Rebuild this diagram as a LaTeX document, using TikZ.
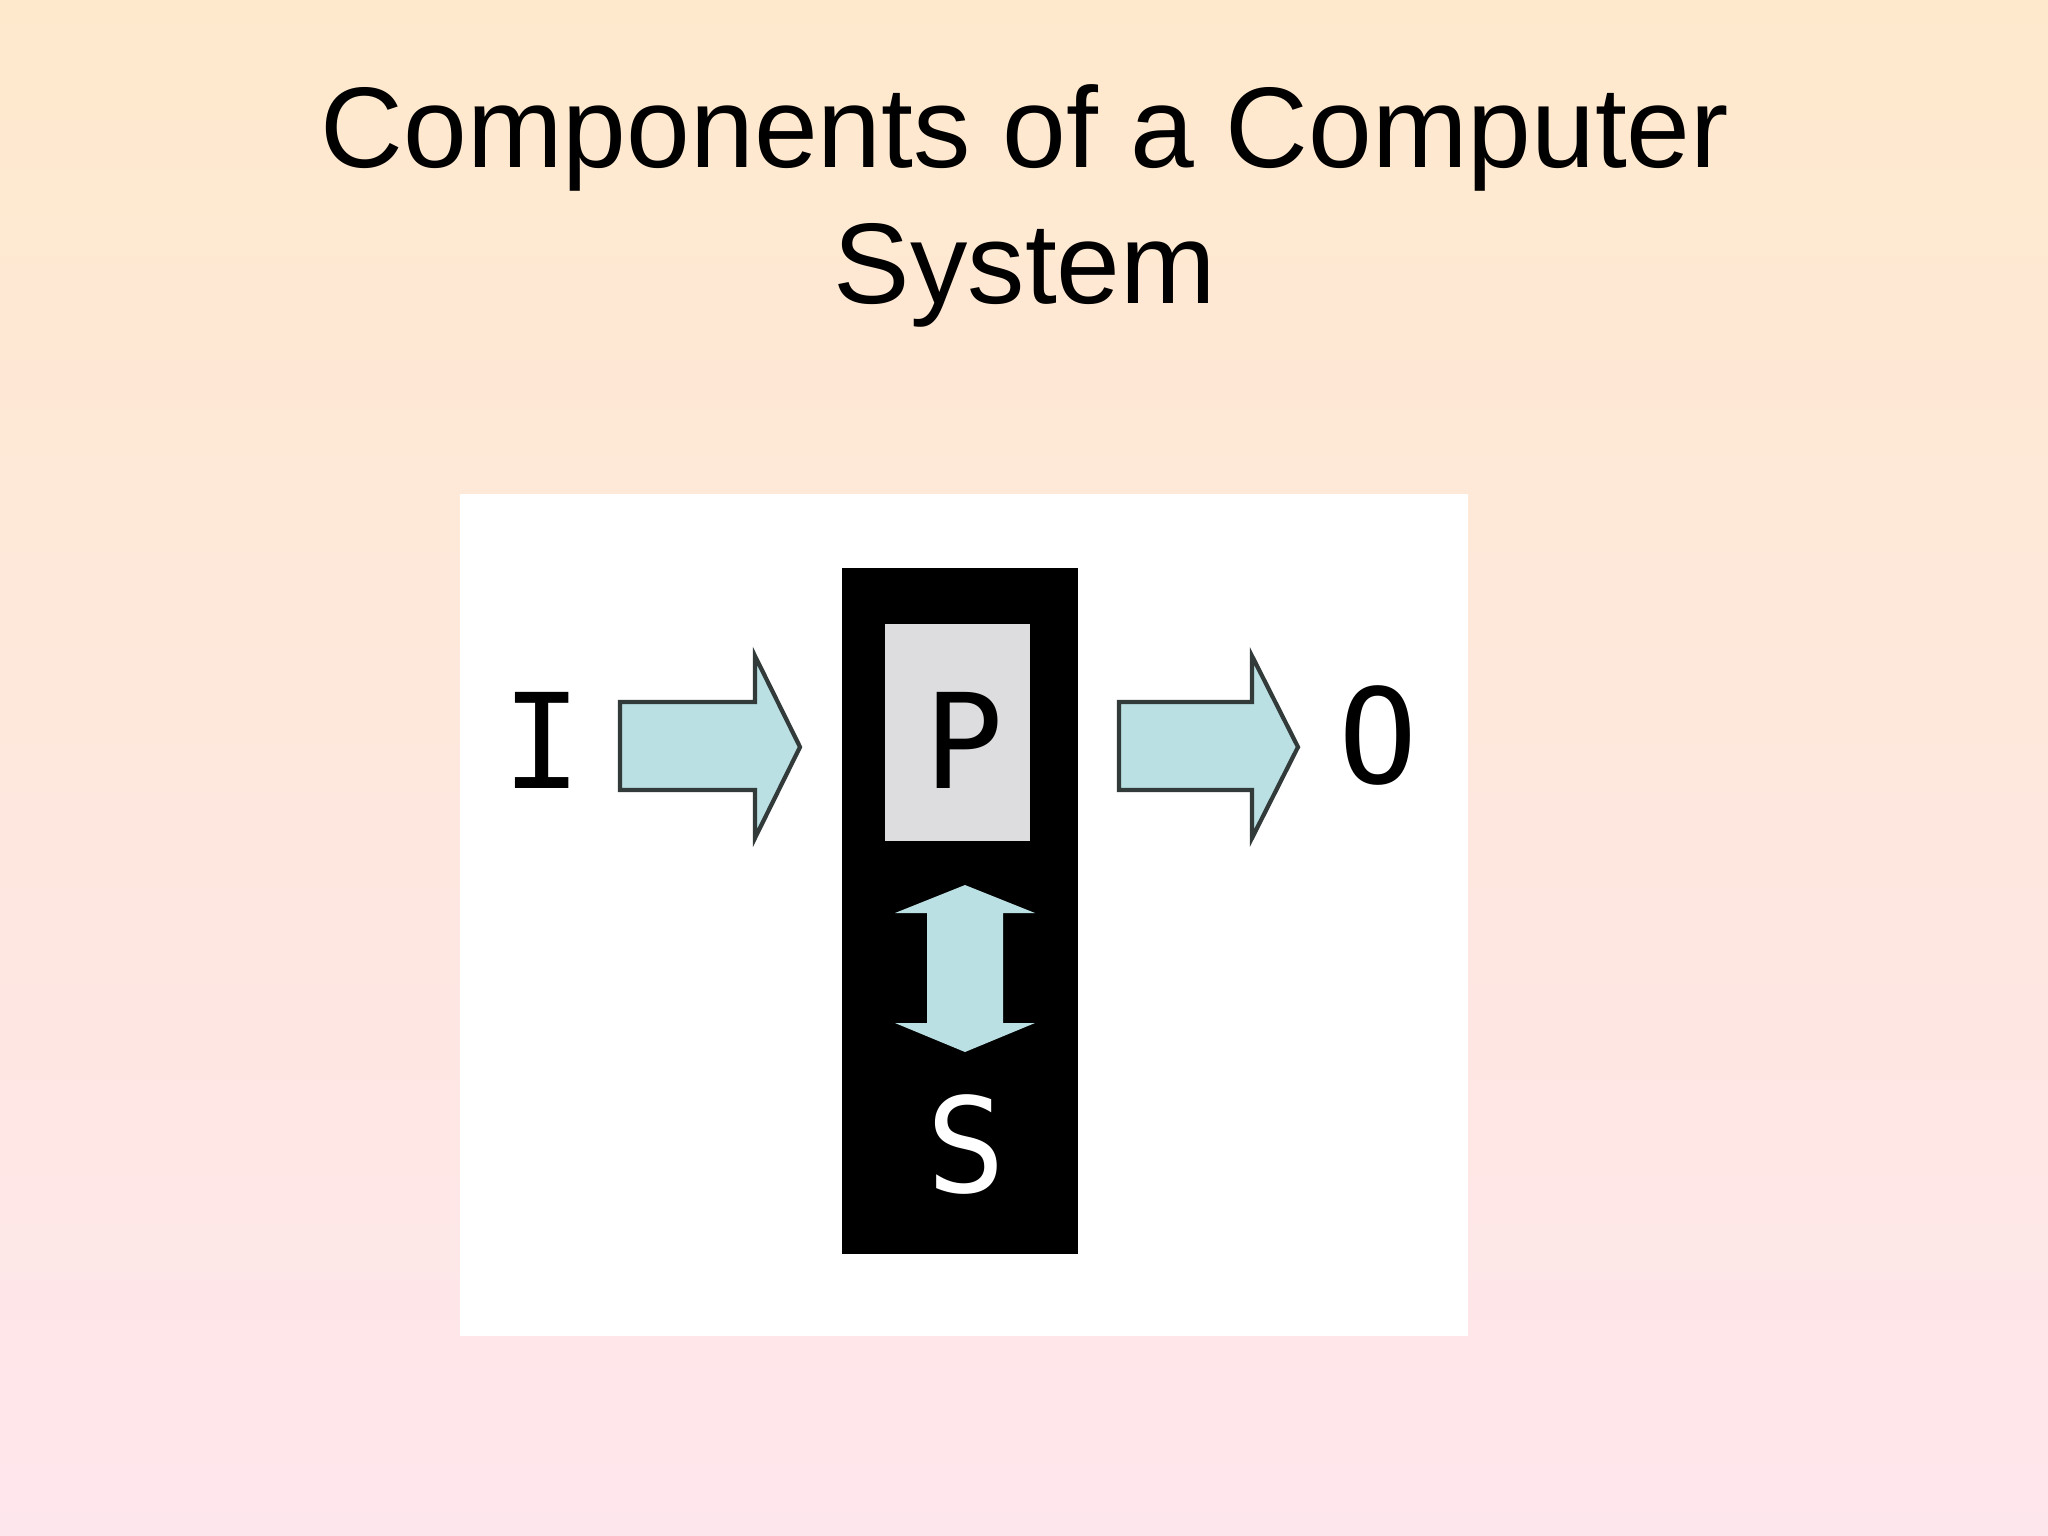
\documentclass[tikz,border=0pt]{standalone}
\usepackage{fontspec}
\setmainfont{Liberation Sans}
\newfontfamily\pixfont{DejaVu Sans Mono}
\usetikzlibrary{positioning}
\definecolor{peach}{RGB}{254,233,205}
\definecolor{blush}{RGB}{254,230,237}
\definecolor{aqua}{RGB}{186,224,227}
\definecolor{chipgrey}{RGB}{221,221,223}
\definecolor{rimgrey}{RGB}{50,58,58}
\tikzstyle{heading} = [font=\fontsize{32.6}{38.7}\selectfont, inner sep=0pt, anchor=base]
\tikzstyle{letter} = [font=\pixfont\fontsize{37.5}{40}\selectfont, inner sep=0pt, anchor=base]
\tikzstyle{flow} = [fill=aqua, draw=rimgrey, line width=1.2pt, line join=miter]
\tikzstyle{swap} = [fill=aqua, draw=none]

\begin{document}
\begin{tikzpicture}[x=0.01cm, y=-0.01cm]
	\useasboundingbox (0,0) rectangle (2048,1536);
	\shade [top color=peach, bottom color=blush] (0,0) rectangle (2048,1536);
	
	\node [heading] (title1) at (1025,167) {Components of a Computer};
	\node [heading] (title2) at (1025,303) {System};
	
	% panel, computer and processor
	\fill [white] (460,494) rectangle (1468,1336);
	\fill [black] (842,568) rectangle (1078,1254);
	\fill [chipgrey] (885,624) rectangle (1030,841);
	
	\node [letter] (in) at (542,788) {I};
	\node [letter] (proc) at (964,788) {P};
	\node [letter] (out) at (1378,783) {O};
	\node [letter, text=white] (store) at (966,1192) {S};
	
	% block arrows
	\path [flow] (620,702) -- (755,702) -- (755,656) -- (800,747) -- (755,838) -- (755,790) -- (620,790) -- cycle;
	\path [flow] (1119,702) -- (1252,702) -- (1252,656) -- (1298,747) -- (1252,838) -- (1252,790) -- (1119,790) -- cycle;
	\path [swap] (965,885) -- (1035,913) -- (1003,913) -- (1003,1023) -- (1035,1023) -- (965,1052)
		-- (895,1023) -- (927,1023) -- (927,913) -- (895,913) -- cycle;
\end{tikzpicture}
\end{document}
